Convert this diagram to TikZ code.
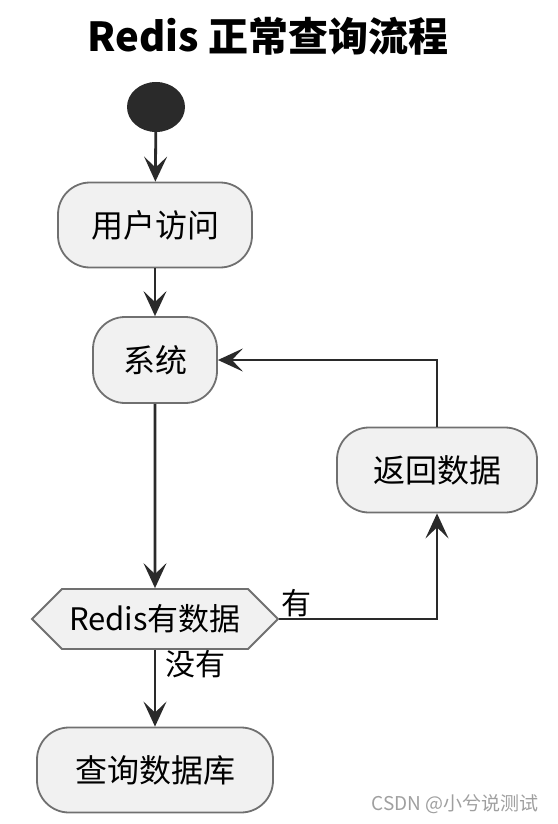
\documentclass[tikz,border=0pt]{standalone}
\usepackage{fontspec}
\setmainfont{Noto Sans CJK SC}
\usepackage{xcolor}
\usetikzlibrary{arrows.meta,positioning,shapes.geometric,shapes.symbols}
\definecolor{boxfill}{HTML}{F1F1F1}
\definecolor{boxline}{HTML}{707070}
\definecolor{flowline}{HTML}{2A2A2A}
\tikzset{%
	startnode/.style = {draw=none, fill=flowline, ellipse, minimum width=58pt, minimum height=50pt, inner sep=0pt},
	activity/.style  = {draw=boxline, fill=boxfill, line width=1.8pt, rectangle, rounded corners=32pt, text centered, font=\fontsize{32}{38}\selectfont},
	choice/.style    = {draw=boxline, fill=boxfill, line width=1.8pt, signal, signal to=west and east, signal pointer angle=90, minimum width=246pt, minimum height=60pt, inner sep=0pt, font=\fontsize{31}{36}\selectfont},
	arrow/.style     = {draw=flowline, line width=2.8pt, -{Stealth[length=25pt,width=23pt,inset=11pt]}},
	guard/.style     = {inner sep=1pt, font=\fontsize{30}{34}\selectfont},
}
\begin{document}
\begin{tikzpicture}[x=1pt,y=-1pt]
		\useasboundingbox (0,0) rectangle (557,824);
		\node[font=\fontsize{40}{46}\selectfont\bfseries] (title) at (268,36) {Redis 正常查询流程};
		\node[startnode] (start) at (156,107) {};
		\node[activity, minimum width=194pt, minimum height=85pt] (visit) at (155,225) {用户访问};
		\node[activity, minimum width=124pt, minimum height=86pt] (sys) at (155,360) {系统};
		\node[choice] (check) at (155,619) {Redis有数据};
		\node[activity, minimum width=200pt, minimum height=85pt] (back) at (437,470) {返回数据};
		\node[activity, minimum width=236pt, minimum height=85pt] (db) at (155,770) {查询数据库};
		\node[text=gray!75, font=\fontsize{19}{22}\selectfont] (mark) at (455,804) {CSDN @小兮说测试};
		% connectors
		\draw[arrow] (start) -- (visit);
		\draw[arrow] (visit) -- (sys);
		\draw[arrow] (sys) -- (check);
		\draw[arrow] (check.south) -- node[guard, pos=0.18, right=8pt] {没有} (db.north);
		\draw[arrow] (check.east) node[guard, above right] {有} -| (back.south);
		\draw[arrow] (back.north) |- (sys.east);
	\end{tikzpicture}
\end{document}
